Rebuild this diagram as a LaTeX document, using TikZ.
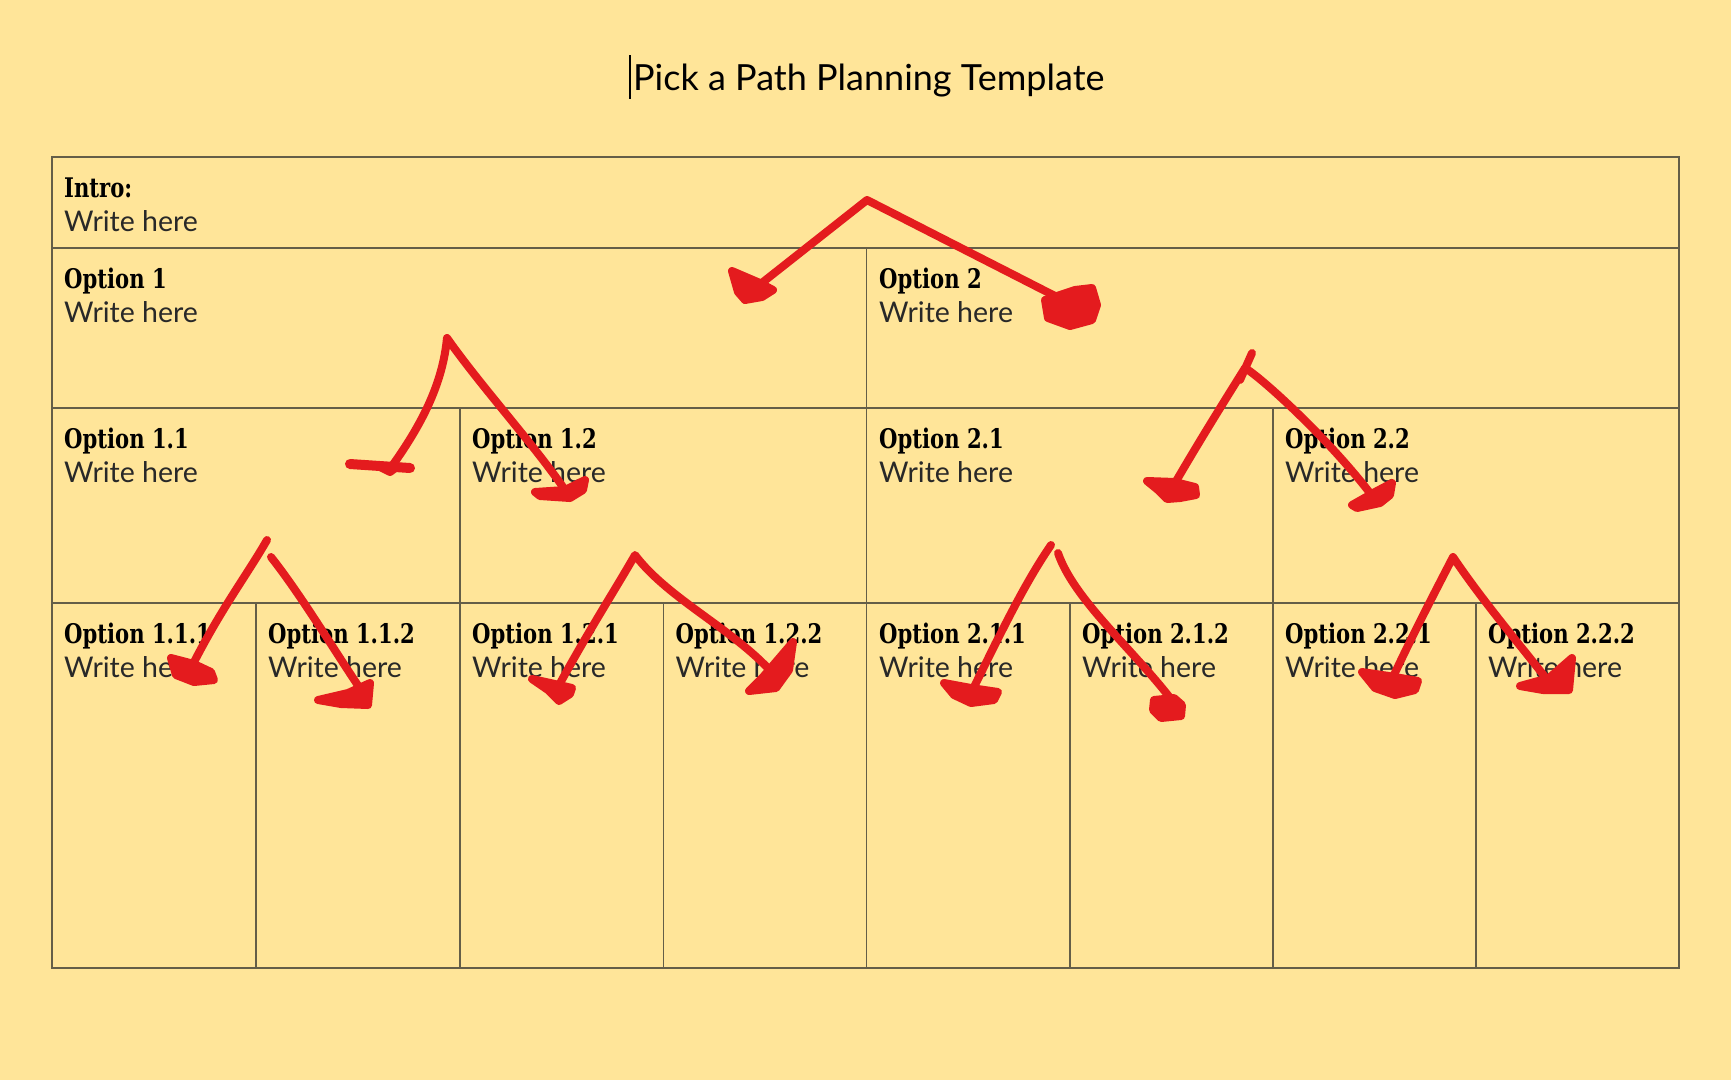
\documentclass[tikz,border=0pt]{standalone}
\usepackage{fontspec}
\setmainfont{Lato}
\newfontfamily\optfont{DejaVu Serif Condensed Bold}[FakeStretch=0.87]
\usetikzlibrary{calc}
\definecolor{paper}{RGB}{255,229,153}
\definecolor{rule}{RGB}{100,94,72}
\definecolor{penred}{RGB}{228,27,30}
\definecolor{ink}{RGB}{40,40,40}

\begin{document}
\begin{tikzpicture}[x=1pt,y=-1pt,
  lbl/.style={anchor=base west, inner sep=0pt, font=\optfont\fontsize{27}{30}\selectfont},
  note/.style={anchor=base west, inner sep=0pt, text=ink, font=\fontsize{28.5}{30}\selectfont},
  pen/.style={draw=penred, line width=8pt, line cap=round, line join=round},
  blob/.style={draw=penred, fill=penred, line width=8pt, line join=round}]
% Page
\fill[paper] (0,0) rectangle (1731,1080);

% Title and cursor
\node[anchor=base west, inner sep=0pt, font=\fontsize{36}{40}\selectfont] (title) at (633,90) {Pick a Path Planning Template};
\draw[line width=2pt] (630,55) -- (630,99);

% Table
\draw[rule, line width=1.5pt] (52,157) rectangle (1679,968);
\draw[rule, line width=1.5pt] (52,248) -- (1679,248);
\draw[rule, line width=1.5pt] (52,408) -- (1679,408);
\draw[rule, line width=1.5pt] (52,603) -- (1679,603);
\draw[rule, line width=1.5pt] (866.5,248) -- (866.5,968);
\draw[rule, line width=1.5pt] (460,408) -- (460,968);
\draw[rule, line width=1.5pt] (1273,408) -- (1273,968);
\foreach \x in {256,663.5,1070,1476}
  \draw[rule, line width=1.5pt] (\x,603) -- (\x,968);

% Cell texts
\foreach \x/\y/\t/\n in {64/197/Intro:/intro,
    64/288/Option 1/o1, 879/288/Option 2/o2,
    64/448/Option 1.1/o11, 472/448/Option 1.2/o12, 879/448/Option 2.1/o21, 1285/448/Option 2.2/o22,
    64/643/Option 1.1.1/o111, 268/643/Option 1.1.2/o112, 472/643/Option 1.2.1/o121, 675.5/643/Option 1.2.2/o122,
    879/643/Option 2.1.1/o211, 1082/643/Option 2.1.2/o212, 1285/643/Option 2.2.1/o221, 1488/643/Option 2.2.2/o222}{
  \node[lbl] (\n) at (\x,\y) {\t};
  \node[note] (\n w) at (\x,\y+34) {Write here};
}

% Red strokes: intro
\draw[pen] (763,282) -- (867,200) -- (1057,297);
\fill[blob] (732,271) -- (760,283) -- (773,290) -- (762,297) -- (745,300) -- (738,292) -- cycle;
\fill[blob] (1045,300) -- (1075,290) -- (1092,288) -- (1097,305) -- (1092,320) -- (1070,326) -- (1048,318) -- cycle;

% Red strokes: option 1
\draw[pen] (392,466) .. controls (425,420) and (443,380) .. (447,338) .. controls (480,385) and (530,440) .. (563,487);
\draw[pen, line width=10pt] (350,464) -- (410,468);
\fill[blob] (378,466) -- (398,466) -- (390,472) -- cycle;
\fill[blob] (535,492) -- (565,490) -- (585,480) -- (583,490) -- (570,498) -- (540,496) -- cycle;

% Red strokes: option 2
\draw[pen] (1240,380) -- (1252,353);
\draw[pen] (1175,483) .. controls (1200,440) and (1225,400) .. (1245,368) .. controls (1262,378) and (1330,440) .. (1373,497);
\fill[blob] (1147,481) -- (1175,482) -- (1195,487) -- (1196,495) -- (1180,498) -- (1167,499) -- (1158,490) -- cycle;
\fill[blob] (1352,505) -- (1375,492) -- (1392,483) -- (1390,495) -- (1380,503) -- (1357,508) -- cycle;

% Red strokes: option 1.1
\draw[pen] (267,540) .. controls (247,575) and (220,610) .. (190,670);
\draw[pen] (271,557) .. controls (301,595) and (334,650) .. (361,690);
\fill[blob] (171,658) -- (194,664) -- (211,672) -- (214,680) -- (194,682) -- (176,675) -- cycle;
\fill[blob] (318,700) -- (348,693) -- (370,683) -- (368,705) -- (341,704) -- cycle;

% Red strokes: option 1.2
\draw[pen] (558,687) .. controls (589,630) and (615,590) .. (635,555) .. controls (669,600) and (736,630) .. (776,677);
\fill[blob] (532,679) -- (555,684) -- (572,688) -- (570,694) -- (559,701) -- (548,690) -- cycle;
\fill[blob] (793,642) -- (789,670) -- (776,688) -- (749,691) -- (763,677) -- cycle;

% Red strokes: option 2.1
\draw[pen] (1051,545) .. controls (1027,580) and (1007,620) .. (974,687);
\draw[pen] (1058,553) .. controls (1074,600) and (1134,650) .. (1174,703);
\fill[blob] (944,683) -- (971,688) -- (998,692) -- (994,700) -- (971,703) -- (954,695) -- cycle;
\fill[blob] (1154,700) -- (1174,698) -- (1182,705) -- (1181,716) -- (1161,718) -- (1153,710) -- cycle;

% Red strokes: option 2.2
\draw[pen] (1393,677) .. controls (1415,630) and (1436,590) .. (1453,557) .. controls (1482,600) and (1516,640) .. (1549,682);
\fill[blob] (1362,672) -- (1389,676) -- (1418,681) -- (1415,690) -- (1395,695) -- (1375,688) -- cycle;
\fill[blob] (1520,686) -- (1549,678) -- (1572,658) -- (1569,690) -- (1543,690) -- cycle;
\end{tikzpicture}
\end{document}
